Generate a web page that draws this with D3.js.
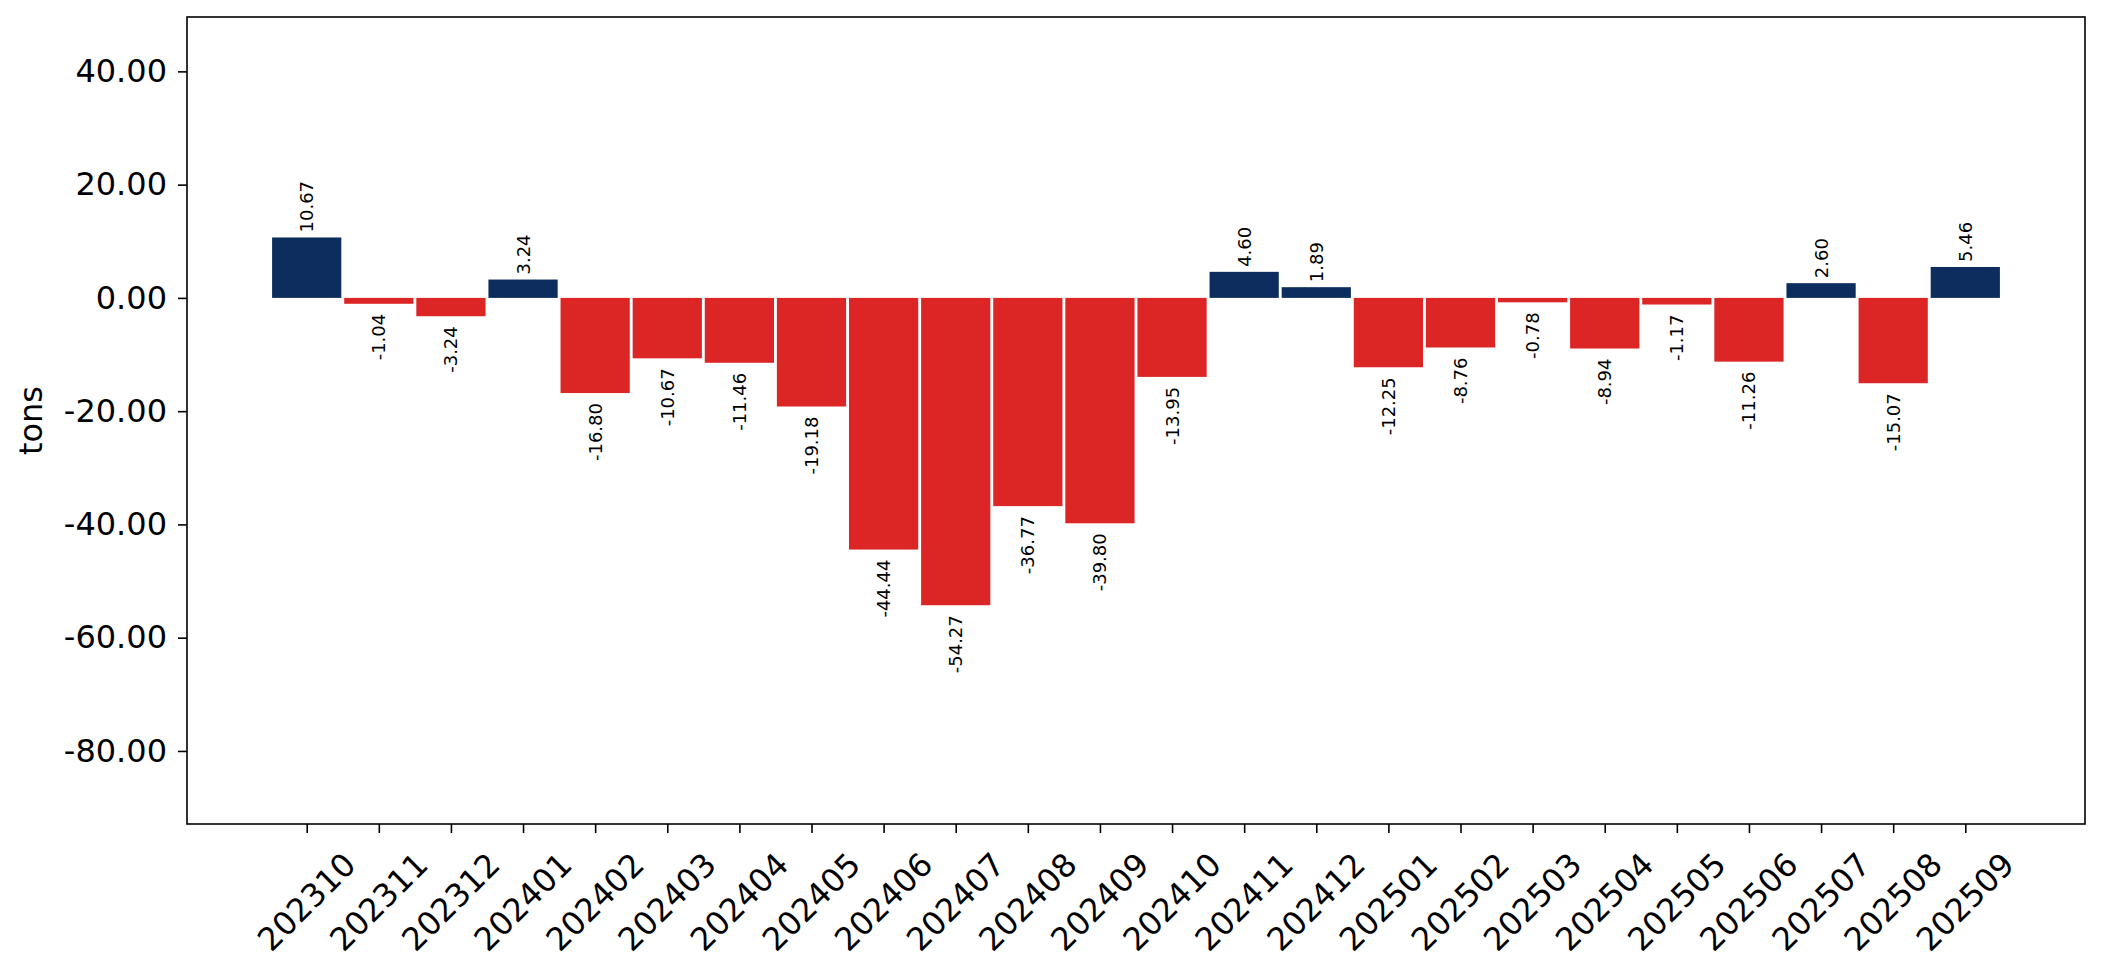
<!DOCTYPE html>
<html>
<head>
<meta charset="utf-8">
<script src="https://cdn.jsdelivr.net/npm/d3@7"></script>
<style>
    body { margin: 0; background: #fff; }
    svg { display: block; font-family: "DejaVu Sans", sans-serif; }
</style>
</head>
<body>
<svg id="chart" width="2102" height="975"></svg>
<script>
const months = ['202310', '202311', '202312', '202401', '202402', '202403', '202404', '202405',
    '202406', '202407', '202408', '202409', '202410', '202411', '202412', '202501', '202502',
    '202503', '202504', '202505', '202506', '202507', '202508', '202509'];
const values = [10.67, -1.04, -3.24, 3.24, -16.80, -10.67, -11.46, -19.18, -44.44, -54.27,
    -36.77, -39.80, -13.95, 4.60, 1.89, -12.25, -8.76, -0.78, -8.94, -1.17, -11.26, 2.60,
    -15.07, 5.46];
const yTicks = [-80, -60, -40, -20, 0, 20, 40];

const svg = d3.select('#chart');
const margin = { left: 187, top: 17, right: 2085, bottom: 824 };

// x in category-index units, matplotlib style padding on both sides
const x = d3.scaleLinear()
    .domain([-1.66, months.length - 1 + 1.66])
    .range([margin.left, margin.right]);
const step = x(1) - x(0);
const barW = step * 0.96;

const y = d3.scaleLinear()
    .domain([-92.9, 49.6])
    .range([margin.bottom, margin.top]);

const data = months.map((m, i) => ({ m, i, v: values[i] }));

// bars
svg.append('g')
    .selectAll('rect')
    .data(data)
    .join('rect')
    .attr('x', d => x(d.i) - barW / 2)
    .attr('width', barW)
    .attr('y', d => y(Math.max(0, d.v)))
    .attr('height', d => Math.abs(y(d.v) - y(0)))
    .attr('fill', d => d.v >= 0 ? '#0c2d5e' : '#dc2626');

// value labels, rotated
svg.append('g')
    .selectAll('text')
    .data(data)
    .join('text')
    .attr('transform', d => {
        const ty = d.v >= 0 ? y(d.v) - 5 : y(d.v) + 10;
        return `translate(${x(d.i)},${ty}) rotate(-90)`;
    })
    .attr('text-anchor', d => d.v >= 0 ? 'start' : 'end')
    .attr('dominant-baseline', 'central')
    .attr('font-size', 18)
    .attr('fill', '#000')
    .text(d => d.v.toFixed(2));

// y axis (plain hyphen for negatives, like the source)
const yAxis = svg.append('g')
    .attr('transform', `translate(${margin.left},0)`)
    .call(d3.axisLeft(y).tickValues(yTicks).tickFormat(d => d.toFixed(2)).tickSize(9).tickPadding(11));
yAxis.select('.domain').remove();
yAxis.selectAll('line').attr('stroke', '#000').attr('stroke-width', 1.6);
yAxis.selectAll('text').attr('font-size', 32).attr('fill', '#000')
    .attr('font-family', '"DejaVu Sans", sans-serif');

// x axis ticks + rotated labels
const xAxis = svg.append('g')
    .attr('transform', `translate(0,${margin.bottom})`)
    .call(d3.axisBottom(x).tickValues(d3.range(months.length)).tickFormat('').tickSize(9));
xAxis.select('.domain').remove();
xAxis.selectAll('line').attr('stroke', '#000').attr('stroke-width', 1.6);

svg.append('g')
    .selectAll('text')
    .data(data)
    .join('text')
    .attr('transform', d => `translate(${x(d.i)},${margin.bottom + 78}) rotate(-45)`)
    .attr('text-anchor', 'middle')
    .attr('dominant-baseline', 'central')
    .attr('font-size', 32)
    .attr('fill', '#000')
    .text(d => d.m);

// frame
svg.append('rect')
    .attr('x', margin.left)
    .attr('y', margin.top)
    .attr('width', margin.right - margin.left)
    .attr('height', margin.bottom - margin.top)
    .attr('fill', 'none')
    .attr('stroke', '#000')
    .attr('stroke-width', 1.6);

// y label
svg.append('text')
    .attr('transform', `translate(31,${(margin.top + margin.bottom) / 2}) rotate(-90)`)
    .attr('text-anchor', 'middle')
    .attr('dominant-baseline', 'central')
    .attr('font-size', 32)
    .text('tons');
</script>
</body>
</html>
